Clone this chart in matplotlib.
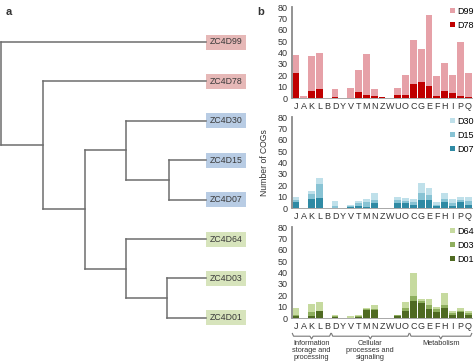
import numpy as np
import matplotlib.pyplot as plt

plt.rcParams["font.family"] = ["Liberation Sans", "DejaVu Sans"]

## Data ##
cats = ["J", "A", "K", "L", "B", "D", "Y", "V", "T", "M", "N", "Z",
        "W", "U", "O", "C", "G", "E", "F", "H", "I", "P", "Q"]

# top panel (stack order: bottom first)
d78 = [22, 0, 6, 8, 0, 1, 0, 0, 5, 3, 2, 1, 0, 3, 3, 12, 14, 11, 2, 6, 4, 2, 1]
d99 = [16, 2, 31, 32, 0, 7, 0, 9, 20, 36, 6, 0, 0, 6, 17, 39, 29, 62, 17, 25, 16, 47, 21]

# middle panel
d07 = [5, 0, 8, 9, 0, 0, 0, 1, 2, 1, 4, 0, 0, 4, 4, 3, 7, 7, 2, 5, 2, 5, 3]
d15 = [2, 0, 4, 12, 0, 2, 0, 1, 2, 4, 3, 0, 0, 3, 2, 2, 6, 4, 1, 3, 2, 2, 3]
d30 = [3, 0, 3, 5, 0, 4, 0, 1, 2, 3, 6, 0, 0, 3, 3, 3, 9, 7, 2, 5, 4, 3, 4]

# bottom panel
d01 = [2, 0, 2, 6, 0, 1, 0, 0, 1, 7, 7, 0, 0, 2, 6, 15, 13, 8, 5, 9, 3, 5, 3]
d03 = [1, 0, 3, 0, 0, 1, 0, 0, 1, 1, 1, 0, 0, 1, 3, 4, 2, 3, 3, 2, 1, 1, 1]
d64 = [6, 0, 7, 8, 0, 1, 0, 2, 1, 1, 3, 0, 0, 0, 5, 21, 2, 6, 2, 11, 2, 3, 2]

groups = [("Information\nstorage and\nprocessing", 0, 4),
          ("Cellular\nprocesses and\nsignaling", 5, 14),
          ("Metabolism", 15, 22)]

# dendrogram: (node x in px, children); leaves are strings
tree = (1, ["ZC4D99",
            (43, ["ZC4D78",
                  (85, [(126, ["ZC4D30", (169, ["ZC4D15", "ZC4D07"])]),
                        (126, ["ZC4D64", (167, ["ZC4D03", "ZC4D01"])])])])])
leaf_colors = {"ZC4D99": "#e6b8b7", "ZC4D78": "#e6b8b7",
               "ZC4D30": "#b8cce4", "ZC4D15": "#b8cce4", "ZC4D07": "#b8cce4",
               "ZC4D64": "#d7e4bc", "ZC4D03": "#d7e4bc", "ZC4D01": "#d7e4bc"}
leaf_x = 206
leaf_y0, leaf_step = 42, 39.4

## Figure ##
fig = plt.figure(figsize=(4.74, 3.61), dpi=100)
bg = fig.add_axes([0, 0, 1, 1])
bg.set_xlim(0, 474)
bg.set_ylim(361, 0)
bg.axis("off")

line_col = "#6e6e6e"
counter = [0]

def draw(node):
    # returns y of node, draws branches
    if isinstance(node, str):
        y = leaf_y0 + leaf_step * counter[0]
        counter[0] += 1
        bg.add_patch(plt.Rectangle((leaf_x, y - 7.5), 40, 15,
                                   color=leaf_colors[node], lw=0))
        bg.text(leaf_x + 20, y, node, ha="center", va="center",
                fontsize=6.3, color="#3a3a3a")
        return y, leaf_x
    x, children = node
    ys = []
    for ch in children:
        cy, cx = draw(ch)
        bg.plot([x, cx], [cy, cy], color=line_col, lw=1.1)
        ys.append(cy)
    bg.plot([x, x], [min(ys), max(ys)], color=line_col, lw=1.1)
    return (min(ys) + max(ys)) / 2, x

draw(tree)
bg.text(9, 12, "a", fontsize=8, fontweight="bold", va="center", ha="center", color="#333333")
bg.text(261, 12, "b", fontsize=8, fontweight="bold", va="center", ha="center", color="#333333")

x = np.arange(len(cats))
panels = [
    (0.7285, [(d78, "D78", "#c00000"), (d99, "D99", "#e6a1a8")]),
    (0.4238, [(d07, "D07", "#2f8aa4"), (d15, "D15", "#88c3d4"), (d30, "D30", "#bfe0ea")]),
    (0.1191, [(d01, "D01", "#4f6a22"), (d03, "D03", "#8eae5e"), (d64, "D64", "#c6da9f")]),
]
axes = []
for bottom, series in panels:
    ax = fig.add_axes([0.616, bottom, 0.38, 0.252])
    base = np.zeros(len(cats))
    for vals, name, col in series:
        ax.bar(x, vals, bottom=base, width=0.86, color=col, label=name, lw=0)
        base += np.array(vals)
    ax.set_xlim(-0.5, len(cats) - 0.5)
    ax.set_ylim(0, 80)
    ax.set_yticks(range(0, 81, 10))
    ax.set_xticks(x)
    ax.set_xticklabels(cats)
    ax.tick_params(length=0, labelsize=6.5, colors="#333333", pad=3)
    for s in ["top", "right"]:
        ax.spines[s].set_visible(False)
    ax.spines["left"].set_color("#8a8a8a")
    ax.spines["left"].set_linewidth(1.3)
    ax.spines["bottom"].set_color("#9a9a9a")
    ax.spines["bottom"].set_linewidth(0.6)
    ax.patch.set_alpha(0)
    h, l = ax.get_legend_handles_labels()
    ax.legend(h[::-1], l[::-1], loc="upper right", frameon=False,
              fontsize=6.5, handlelength=0.5, handleheight=0.5,
              handletextpad=0.3, labelspacing=0.55,
              bbox_to_anchor=(1.03, 1.04), borderaxespad=0)
    axes.append(ax)

axes[1].set_ylabel("Number of COGs", fontsize=6.2, color="#333333", labelpad=6)

# group braces under bottom panel
ax = axes[2]
tr = ax.get_xaxis_transform()
for label, i0, i1 in groups:
    x0, x1 = i0 - 0.45, i1 + 0.45
    xm = (x0 + x1) / 2
    yt, yb, yc = -0.17, -0.2, -0.23
    ax.plot([x0, x0 + 0.15, xm - 0.2, xm, xm + 0.2, x1 - 0.15, x1],
            [yt, yb, yb, yc, yb, yb, yt], transform=tr, clip_on=False,
            color="#777777", lw=0.8)
    ax.text(xm, -0.245, label, transform=tr, ha="center", va="top",
            fontsize=5.3, color="#333333", linespacing=1.0)

fig.savefig("out.png", dpi=100)
